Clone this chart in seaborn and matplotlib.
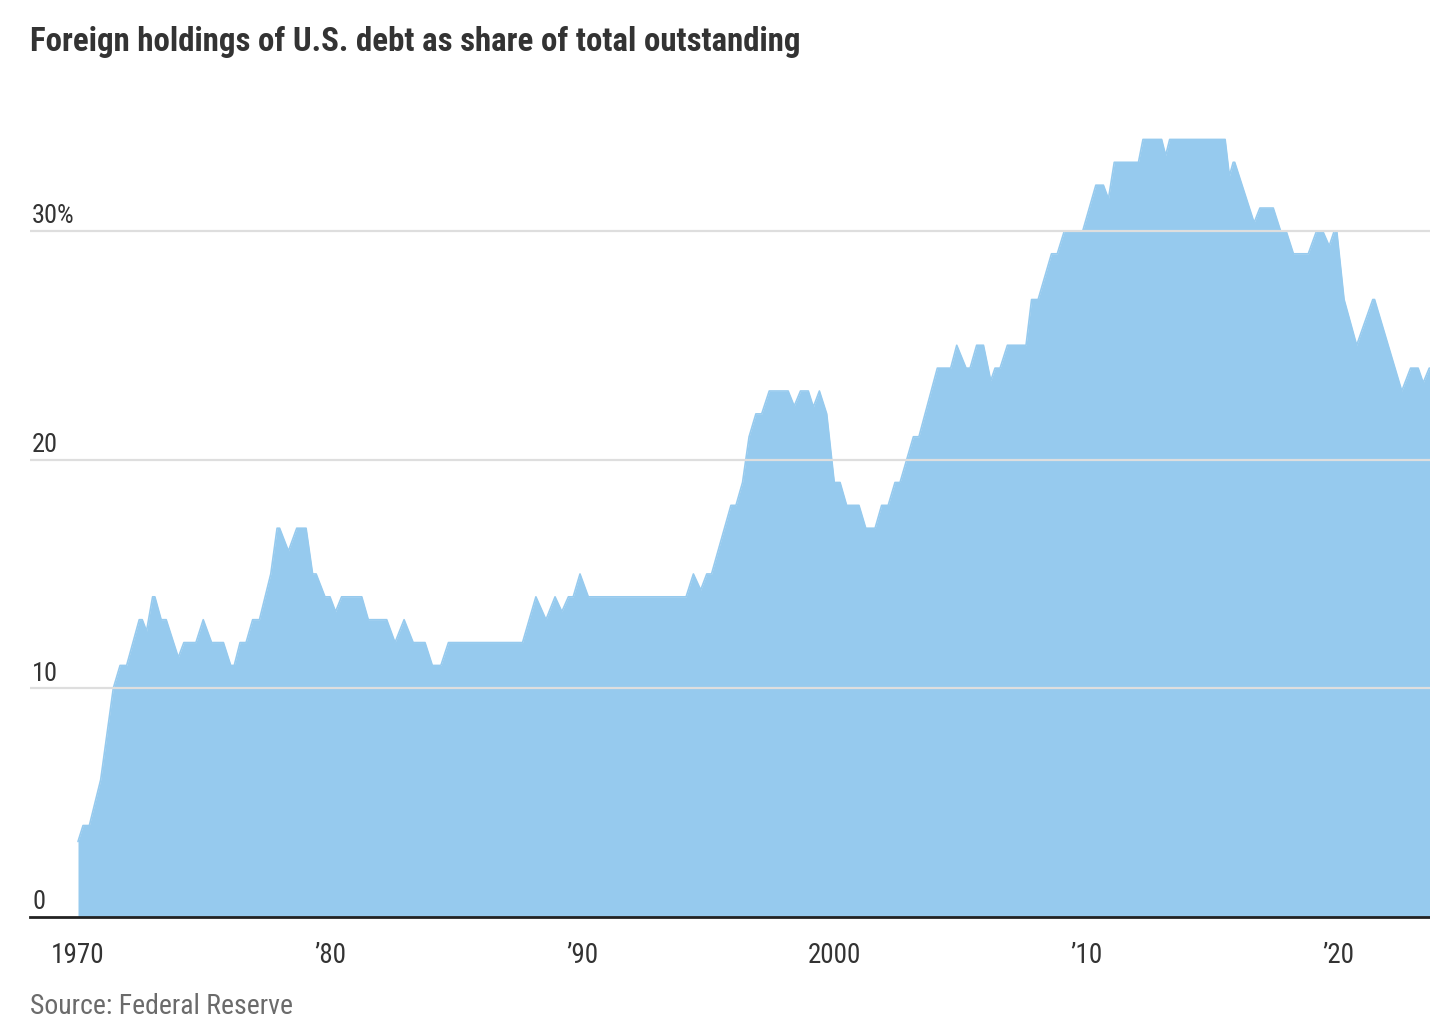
import matplotlib
matplotlib.use("Agg")
import matplotlib.pyplot as plt
from matplotlib import font_manager
import seaborn as sns
import pandas as pd

# Foreign holdings share (%)
years = [
    1970.0, 1970.2, 1970.45, 1970.9, 1971.4, 1971.67, 1971.93, 1972.43, 1972.55, 1972.72,
    1972.96, 1973.05, 1973.3, 1973.5, 1973.98, 1974.2, 1974.68, 1974.97, 1975.3, 1975.77,
    1976.06, 1976.2, 1976.43, 1976.67, 1976.93, 1977.2, 1977.65, 1977.9, 1978.0, 1978.35,
    1978.68, 1979.05, 1979.31, 1979.45, 1979.8, 1980.0, 1980.22, 1980.46, 1981.26, 1981.52,
    1982.25, 1982.58, 1982.94, 1983.3, 1983.77, 1984.06, 1984.4, 1984.7, 1987.64, 1988.17,
    1988.57, 1988.93, 1989.2, 1989.46, 1989.65, 1989.92, 1990.25, 1994.13, 1994.42, 1994.71,
    1994.95, 1995.14, 1995.91, 1996.11, 1996.37, 1996.63, 1996.9, 1997.13, 1997.43, 1998.18,
    1998.42, 1998.67, 1998.98, 1999.18, 1999.42, 1999.71, 2000.01, 2000.24, 2000.5, 2000.99,
    2001.26, 2001.63, 2001.89, 2002.15, 2002.42, 2002.62, 2003.15, 2003.37, 2004.1, 2004.63,
    2004.87, 2005.24, 2005.4, 2005.66, 2005.93, 2006.22, 2006.39, 2006.59, 2006.88, 2007.62,
    2007.84, 2008.1, 2008.63, 2008.86, 2009.14, 2009.87, 2010.39, 2010.69, 2010.89, 2011.12,
    2012.08, 2012.26, 2013.0, 2013.16, 2013.32, 2015.52, 2015.69, 2015.84, 2015.9, 2016.67,
    2016.9, 2017.43, 2017.72, 2017.94, 2018.23, 2018.82, 2019.15, 2019.39, 2019.65, 2019.85,
    2019.95, 2020.24, 2020.74, 2021.38, 2021.45, 2022.53, 2022.88, 2023.18, 2023.38, 2023.62,
    2023.7,
]
share = [
    3.3, 4.0, 4.0, 6.0, 10.0, 11.0, 11.0, 13.0, 13.0, 12.5,
    14.0, 14.0, 13.0, 13.0, 11.35, 12.0, 12.0, 13.0, 12.0, 12.0,
    11.0, 11.0, 12.0, 12.0, 13.0, 13.0, 15.0, 17.0, 17.0, 16.0,
    17.0, 17.0, 15.0, 15.0, 14.0, 14.0, 13.35, 14.0, 14.0, 13.0,
    13.0, 12.0, 13.0, 12.0, 12.0, 11.0, 11.0, 12.0, 12.0, 14.0,
    13.0, 14.0, 13.35, 14.0, 14.0, 15.0, 14.0, 14.0, 15.0, 14.3,
    15.0, 15.0, 18.0, 18.0, 19.0, 21.0, 22.0, 22.0, 23.0, 23.0,
    22.34, 23.0, 23.0, 22.3, 23.0, 22.0, 19.0, 19.0, 18.0, 18.0,
    17.0, 17.0, 18.0, 18.0, 19.0, 19.0, 21.0, 21.0, 24.0, 24.0,
    25.0, 24.0, 24.0, 25.0, 25.0, 23.45, 24.0, 24.0, 25.0, 25.0,
    27.0, 27.0, 29.0, 29.0, 30.0, 30.0, 32.0, 32.0, 31.4, 33.0,
    33.0, 34.0, 34.0, 33.3, 34.0, 34.0, 32.4, 33.0, 33.0, 30.36,
    31.0, 31.0, 30.0, 30.0, 29.0, 29.0, 30.0, 30.0, 29.34, 30.0,
    30.0, 27.0, 25.0, 27.0, 27.0, 23.0, 24.0, 24.0, 23.36, 24.0,
    24.0,
]

y_ticks = [0, 10, 20, 30]
y_labels = ["0", "10", "20", "30%"]
x_ticks = [1970, 1980, 1990, 2000, 2010, 2020]
x_labels = ["1970", "\u201980", "\u201990", "2000", "\u201910", "\u201920"]

df = pd.DataFrame({"year": years, "share": share})

# pick a narrow font if one is installed
installed = {f.name for f in font_manager.fontManager.ttflist}
stretch = "normal"
font_name = "Roboto"
for cand in ["Liberation Sans Narrow", "Roboto Condensed", "Open Sans Condensed"]:
    if cand in installed:
        font_name = cand
        break
else:
    if any(f.name == "DejaVu Sans" and f.stretch == "condensed" for f in font_manager.fontManager.ttflist):
        font_name = "DejaVu Sans"
        stretch = "condensed"

sns.set_theme(style="white")
plt.rcParams["font.family"] = [font_name, "DejaVu Sans"]
plt.rcParams["font.stretch"] = stretch

fill_color = "#96CAEE"
text_color = "#333333"

fig = plt.figure(figsize=(14.3, 10.36), dpi=100)
ax = fig.add_axes([30 / 1430, 1 - 917 / 1036, 1 - 30 / 1430, (917 - 93.7) / 1036])

sns.lineplot(data=df, x="year", y="share", ax=ax, color=fill_color, linewidth=1.2, zorder=2)
ax.fill_between(df["year"], 0, df["share"], color=fill_color, linewidth=0, zorder=2)

ax.set_xlim(1970 - 48 / 25.2, 2023.65)
ax.set_ylim(0, 36)

for v in y_ticks[1:]:
    ax.axhline(v, color="#dedede", linewidth=1.6, zorder=3)
for v, lab in zip(y_ticks, y_labels):
    ax.text(0.0015, v + 0.12, lab, transform=ax.get_yaxis_transform(),
            ha="left", va="bottom", fontsize=19, color=text_color, zorder=4)

ax.set_yticks([])
ax.set_xticks(x_ticks)
ax.set_xticklabels(x_labels, fontsize=19.5, color=text_color)
ax.tick_params(axis="x", direction="out", length=8, width=1.6, color=text_color, pad=10)
ax.set_xlabel("")
ax.set_ylabel("")

for side in ["top", "right", "left"]:
    ax.spines[side].set_visible(False)
ax.spines["bottom"].set_color("#222222")
ax.spines["bottom"].set_linewidth(2)
ax.spines["bottom"].set_zorder(5)

fig.text(30 / 1430, 1 - 42 / 1036, "Foreign holdings of U.S. debt as share of total outstanding",
         ha="left", va="center", fontsize=23.7, fontweight="bold", color=text_color)
fig.text(30 / 1430, 1 - 1007 / 1036, "Source: Federal Reserve",
         ha="left", va="center", fontsize=20, color="#6b6b6b")

fig.savefig("out.png", dpi=100)
plt.close(fig)
